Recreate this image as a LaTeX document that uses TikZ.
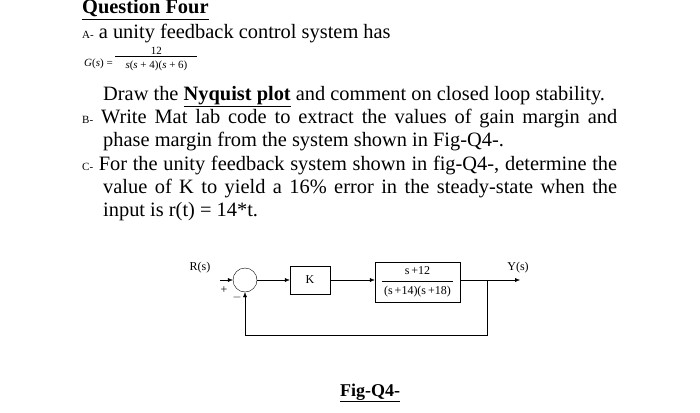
\documentclass[tikz,border=0pt]{standalone}
\usepackage{fontspec}
\setmainfont{Liberation Serif}
\usetikzlibrary{arrows.meta}
\begin{document}
\begin{tikzpicture}[x=1pt,y=-1pt,
  txt/.style={anchor=base west,inner sep=0pt,font=\fontsize{20.4}{22}\selectfont},
  sm/.style={font=\fontsize{12}{13}\selectfont,inner sep=1pt},
  blk/.style={draw,thin,minimum height=28pt,sm},
  sig/.style={-{Latex[length=5pt,width=4pt]},thin}]
\useasboundingbox (0,0) rectangle (700,412);
\node[txt] (q) at (82,14) {\textbf{\underline{Question Four}}};
\node[txt] (a) at (82,38) {{\fontsize{11}{12}\selectfont A-} a unity feedback control system has};
\node[anchor=west,inner sep=0pt,font=\fontsize{11}{12}\selectfont] (g) at (84,59) {\textit{G}(\textit{s}) = \raisebox{-0.4ex}{\shortstack{12\\[-1pt]\rule{82pt}{0.5pt}\\[1pt]\textit{s}(\textit{s} + 4)(\textit{s} + 6)}}};
\node[txt] (l1) at (103,100) {Draw the \textbf{\underline{Nyquist plot}} and comment on closed loop stability.};
\node[txt] (l2) at (82,123) {\makebox[535pt][s]{{\fontsize{11}{12}\selectfont B-} Write Mat lab code to extract the values of gain margin and}};
\node[txt] (l3) at (103,146) {phase margin from the system shown in Fig-Q4-.};
\node[txt] (l4) at (82,170) {\makebox[535pt][s]{{\fontsize{11}{12}\selectfont C-} For the unity feedback system shown in fig-Q4-, determine the}};
\node[txt] (l5) at (103,193) {\makebox[514pt][s]{value of K to yield a 16\% error in the steady-state when the}};
\node[txt] (l6) at (103,216) {input is r(t) = 14*t.};
% diagram
\coordinate (in) at (220,280);
\node[draw,thin,circle,minimum size=24pt,inner sep=0pt] (sum) at (245,280) {};
\node[blk,minimum width=40pt] (k) at (310,280) {K};
\node[blk,minimum width=85pt,minimum height=40pt] (gb) at (417.5,282) {};
\node[sm] (num) at (417.5,271) {s\,+12};
\draw[thin] (382,281) -- (453,281);
\node[sm] (den) at (417.5,292) {(s\,+14)(s\,+18)};
\coordinate (br) at (487,280);
\coordinate (out) at (520,280);
\coordinate (fb1) at (487,335);
\coordinate (fb2) at (245,335);
\node[sm] (r) at (200,268) {R(s)};
\node[sm] (y) at (518,268) {Y(s)};
\node[sm] (plus) at (224,290) {+};
\node[sm] (minus) at (237,297) {$-$};
\draw[sig] (in) -- (sum.west);
\draw[sig] (sum.east) -- (k.west);
\draw[sig] (k.east) -- (gb.west|-k.east);
\draw[sig] (gb.east|-br) -- (out);
\draw[sig] (br) -- (fb1) -- (fb2) -- (sum.south);
\node[anchor=base,inner sep=0pt,font=\fontsize{18}{20}\selectfont] (fig) at (370,396) {\textbf{\underline{Fig-Q4-}}};
\end{tikzpicture}
\end{document}
